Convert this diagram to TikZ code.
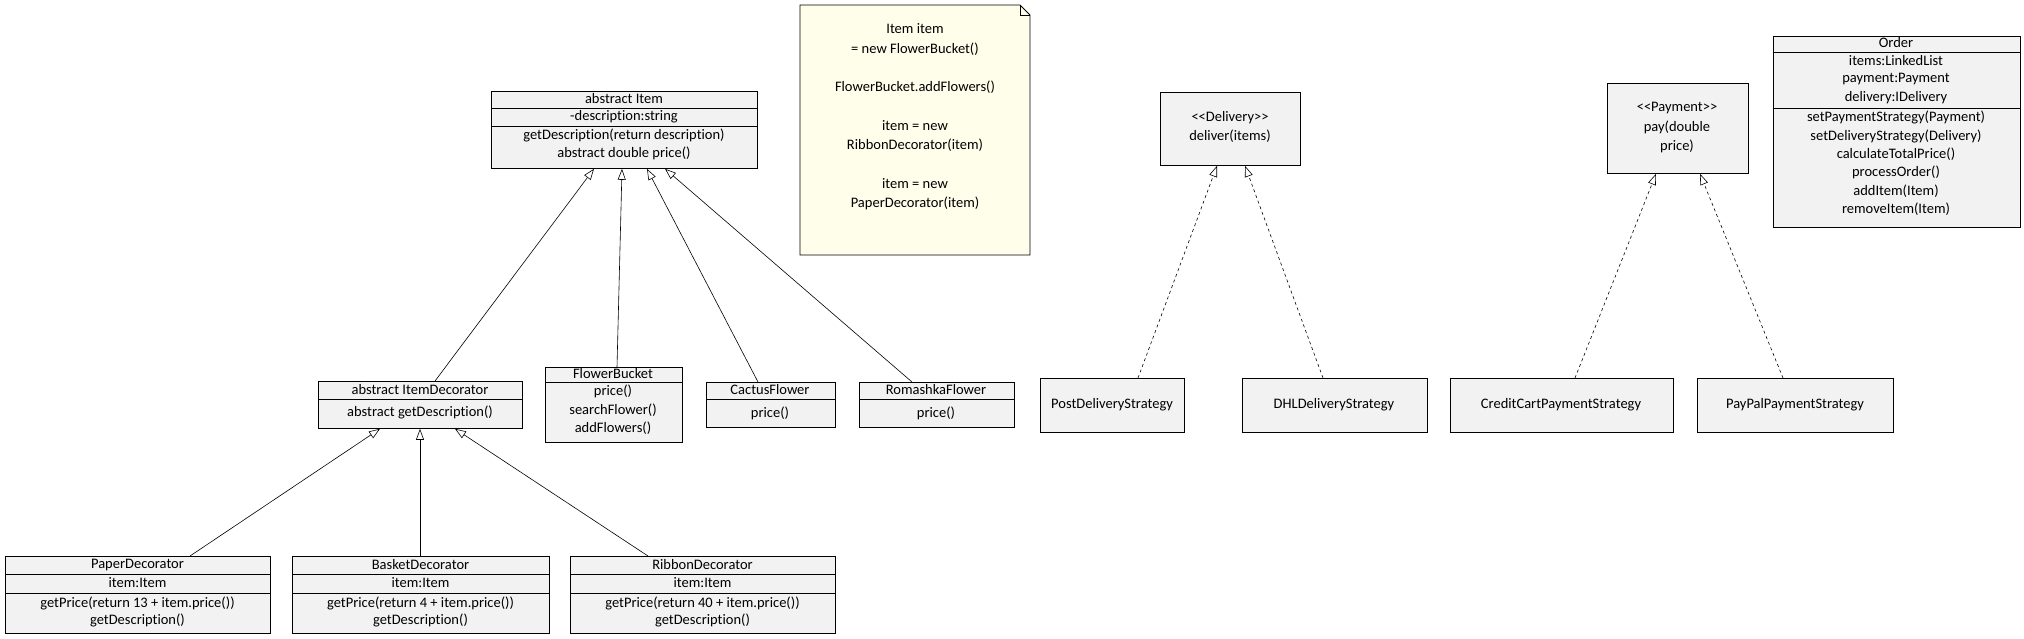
\documentclass[tikz,border=0pt]{standalone}
\usepackage{fontspec}
\setmainfont{Carlito}[Ligatures=NoCommon]
\usetikzlibrary{arrows.meta}
\newcommand\lt{\mbox{<}}
\newcommand\gt{\mbox{>}}
\begin{document}
\begin{tikzpicture}[x=1pt,y=-1pt,
  box/.style={draw,fill=gray!10,line width=0.8pt,anchor=north west,inner sep=0pt},
  t/.style={font=\fontsize{14.5}{16}\selectfont,inner sep=0pt},
  sep/.style={line width=0.8pt},
  inh/.style={-{Triangle[open,length=11pt,width=8pt]},line width=0.6pt},
  real/.style={inh,dashed}]
\useasboundingbox (0,0) rectangle (2024,638);
\newcommand\cls[5]{\node[box,minimum width=#4-#2,minimum height=#5-#3] (#1) at (#2,#3) {};}
% abstract Item
\cls{item}{491}{91}{757}{168}
\draw[sep] (491,108)--(757,108) (491,126)--(757,126);
\node[t] (item1) at (624,99) {abstract Item};
\node[t] (item2) at (624,117) {-description:string};
\node[t] (item3) at (624,135) {getDescription(return description)};
\node[t] (item4) at (624,153) {abstract double price()};
% note
\draw[fill=yellow!8,line width=0.8pt] (800,5)--(1020,5)--(1030,15)--(1030,255)--(800,255)--cycle;
\draw[line width=0.6pt] (1020,5)--(1020,15)--(1030,15);
\node[t] (n1) at (915,29) {Item item};
\node[t] (n2) at (915,49) {= new FlowerBucket()};
\node[t] (n3) at (915,87) {FlowerBucket.addFlowers()};
\node[t] (n4) at (915,126) {item = new};
\node[t] (n5) at (915,145) {RibbonDecorator(item)};
\node[t] (n6) at (915,184) {item = new};
\node[t] (n7) at (915,203) {PaperDecorator(item)};
% Delivery
\cls{deliv}{1160}{92}{1300}{165}
\node[t] (d1) at (1230,118) {\lt\lt Delivery\gt\gt};
\node[t] (d2) at (1230,136) {deliver(items)};
% Payment
\cls{pay}{1607}{83}{1748}{173}
\node[t] (p1) at (1677,108) {\lt\lt Payment\gt\gt};
\node[t] (p2) at (1677,127) {pay(double};
\node[t] (p3) at (1677,146) {price)};
% Order
\cls{order}{1773}{36}{2020}{227}
\draw[sep] (1773,52)--(2020,52) (1773,108)--(2020,108);
\node[t] (o0) at (1896,43) {Order};
\node[t] (o1) at (1896,61) {items:LinkedList};
\node[t] (o2) at (1896,79) {payment:Payment};
\node[t] (o3) at (1896,98) {delivery:IDelivery};
\node[t] (o4) at (1896,117) {setPaymentStrategy(Payment)};
\node[t] (o5) at (1896,136) {setDeliveryStrategy(Delivery)};
\node[t] (o6) at (1896,154) {calculateTotalPrice()};
\node[t] (o7) at (1896,172) {processOrder()};
\node[t] (o8) at (1896,191) {addItem(Item)};
\node[t] (o9) at (1896,209) {removeItem(Item)};
% middle row
\cls{dec}{318}{381}{522}{428}
\draw[sep] (318,399)--(522,399);
\node[t] (dec1) at (420,390) {abstract ItemDecorator};
\node[t] (dec2) at (420,412) {abstract getDescription()};
\cls{fb}{545}{367}{682}{442}
\draw[sep] (545,382)--(682,382);
\node[t] (fb0) at (613,374) {FlowerBucket};
\node[t] (fb1) at (613,391) {price()};
\node[t] (fb2) at (613,410) {searchFlower()};
\node[t] (fb3) at (613,428) {addFlowers()};
\cls{cac}{706}{382}{835}{427}
\draw[sep] (706,399)--(835,399);
\node[t] (cac1) at (770,390) {CactusFlower};
\node[t] (cac2) at (770,413) {price()};
\cls{rom}{859}{382}{1014}{427}
\draw[sep] (859,399)--(1014,399);
\node[t] (rom1) at (936,390) {RomashkaFlower};
\node[t] (rom2) at (936,413) {price()};
\cls{post}{1040}{378}{1184}{432}
\node[t] (post1) at (1112,405) {PostDeliveryStrategy};
\cls{dhl}{1242}{378}{1427}{432}
\node[t] (dhl1) at (1334,405) {DHLDeliveryStrategy};
\cls{cc}{1450}{378}{1673}{432}
\node[t] (cc1) at (1561,405) {CreditCartPaymentStrategy};
\cls{pp}{1697}{378}{1893}{432}
\node[t] (pp1) at (1795,405) {PayPalPaymentStrategy};
% bottom row
\foreach \n/\a/\b/\num/\lab in {paper/5/270/13/PaperDecorator, basket/292/549/4/BasketDecorator, ribbon/570/835/40/RibbonDecorator}{
  \cls{\n}{\a}{556}{\b}{633}
  \draw[sep] (\a,574)--(\b,574) (\a,593)--(\b,593);
  \node[t] (\n1) at ({(\a+\b)/2},565) {\lab};
  \node[t] (\n2) at ({(\a+\b)/2},583) {item:Item};
  \node[t] (\n3) at ({(\a+\b)/2},603) {getPrice(return \num\ + item.price())};
  \node[t] (\n4) at ({(\a+\b)/2},620) {getDescription()};
}
% connectors
\draw[inh] ([xshift=117pt]dec.north west) -- ([xshift=103pt]item.south west);
\draw[inh] ([xshift=72pt]fb.north west) -- ([xshift=131pt]item.south west);
\draw[inh] ([xshift=52pt]cac.north west) -- ([xshift=156pt]item.south west);
\draw[inh] ([xshift=53pt]rom.north west) -- ([xshift=174pt]item.south west);
\draw[real] ([xshift=98pt]post.north west) -- ([xshift=57pt]deliv.south west);
\draw[real] ([xshift=81pt]dhl.north west) -- ([xshift=85pt]deliv.south west);
\draw[real] ([xshift=125pt]cc.north west) -- ([xshift=49pt]pay.south west);
\draw[real] ([xshift=86pt]pp.north west) -- ([xshift=93pt]pay.south west);
\draw[inh] ([xshift=185pt]paper.north west) -- ([xshift=62pt]dec.south west);
\draw[inh] ([xshift=128pt]basket.north west) -- ([xshift=102pt]dec.south west);
\draw[inh] ([xshift=78pt]ribbon.north west) -- ([xshift=137pt]dec.south west);
\end{tikzpicture}
\end{document}
